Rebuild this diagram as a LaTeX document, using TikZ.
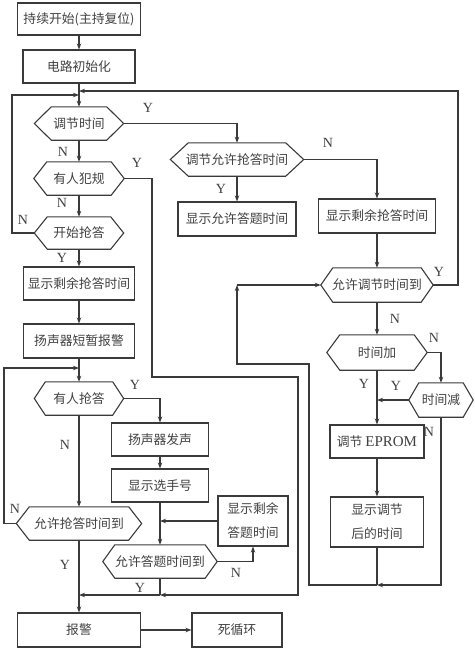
\documentclass[tikz,border=0pt]{standalone}
\usepackage{fontspec}
\setmainfont{Liberation Serif}
\newfontfamily\cjk{Noto Sans CJK SC}
\usetikzlibrary{arrows.meta}
\definecolor{ln}{HTML}{3A3A3A}
\definecolor{tx}{HTML}{404040}
\newcommand\hexdraw[2]{\draw[line] (#1.west) -- ([xshift=#2pt]#1.north west) -- ([xshift=-#2pt]#1.north east) -- (#1.east) -- ([xshift=-#2pt]#1.south east) -- ([xshift=#2pt]#1.south west) -- cycle;}
\begin{document}
\begin{tikzpicture}[x=1pt,y=-1pt,
  line/.style={draw=ln, line width=1.1pt},
  arr/.style={line, -{Stealth[length=6pt,width=4.5pt]}},
  box/.style={draw=ln, line width=1.1pt, rectangle, minimum height=33pt, inner sep=0pt, font=\cjk\fontsize{12.8}{24}\selectfont, text=tx, align=center},
  hexn/.style={rectangle, minimum height=33pt, inner sep=0pt, font=\cjk\fontsize{12.8}{24}\selectfont, text=tx, align=center},
  lab/.style={inner sep=0pt, font=\fontsize{14}{14}\selectfont, text=tx}
]
\useasboundingbox (0,0) rectangle (474,648);
% left column
\node[box, minimum width=123pt, minimum height=32pt] (A) at (79,19) {持续开始(主持复位)};
\node[box, minimum width=112pt] (B) at (79,66.5) {电路初始化};
\node[hexn, minimum width=89pt] (C) at (79,123.5) {调节时间};
\node[hexn, minimum width=90pt] (D) at (79,178.5) {有人犯规};
\node[hexn, minimum width=89pt, minimum height=32pt] (E) at (79,233) {开始抢答};
\node[box, minimum width=111pt] (F) at (79,283.5) {显示剩余抢答时间};
\node[box, minimum width=111pt, minimum height=34pt] (G) at (79,341) {扬声器短暂报警};
\node[hexn, minimum width=89pt] (H) at (79,398.5) {有人抢答};
\node[hexn, minimum width=125pt] (I) at (79,523.5) {允许抢答时间到};
\node[box, minimum width=123pt, minimum height=34pt] (J) at (79,630) {报警};
\node[box, minimum width=90pt, minimum height=34pt] (K) at (237,630) {死循环};
% middle
\node[box, minimum width=97pt] (L) at (160,439.5) {扬声器发声};
\node[box, minimum width=97pt] (M) at (160,485.5) {显示选手号};
\node[box, minimum width=70pt, minimum height=50pt] (N) at (253,521) {显示剩余\\答题时间};
\node[hexn, minimum width=114pt] (O) at (160,561.5) {允许答题时间到};
% right
\node[hexn, minimum width=133pt] (P) at (237,159.5) {调节允许抢答时间};
\node[box, minimum width=118pt, minimum height=34pt] (Q) at (237,219) {显示允许答题时间};
\node[box, minimum width=117pt, minimum height=34pt] (R) at (377,216) {显示剩余抢答时间};
\node[hexn, minimum width=112pt, minimum height=34pt] (S) at (377,285) {允许调节时间到};
\node[hexn, minimum width=100pt, minimum height=35pt] (T) at (377,352.5) {时间加};
\node[hexn, minimum width=64pt, minimum height=34pt] (U) at (441,400) {时间减};
\node[box, minimum width=94pt] (V) at (377,441.5) {调节 {\rmfamily\fontsize{15}{15}\selectfont EPROM}};
\node[box, minimum width=93pt, minimum height=50pt] (W) at (377,522) {显示调节\\后的时间};
% hexagon outlines
\hexdraw{C}{17}
\hexdraw{D}{13}
\hexdraw{E}{13}
\hexdraw{H}{11}
\hexdraw{I}{13}
\hexdraw{O}{12}
\hexdraw{P}{18}
\hexdraw{S}{12}
\hexdraw{T}{13}
\hexdraw{U}{10}
% junction coordinates
\coordinate (j1) at (79,95);
\coordinate (j2) at (79,91);
\coordinate (j3) at (79,595);
\coordinate (j4) at (160,595);
\coordinate (j5) at (79,368);
\coordinate (j6) at (160,521);
\coordinate (j7) at (377,400);
\coordinate (j8) at (377,585);
\coordinate (j9) at (237,285);
% connectors left
\draw[arr] (A) -- (B);
\draw[arr] (B) -- (C);
\draw[arr] (E.west) -- (12,233) -- (12,95) -- (j1);
\draw[arr] (S.east) -- (458,285) -- (458,91) -- (j2);
\draw[arr] (C) -- (D);
\draw[arr] (C.east) -| (P.north);
\draw[arr] (D) -- (E);
\draw[arr] (D.east) -- (152,178.5) -- (152,377) -- (298,377) -- (298,595) -- (j4);
\draw[line] (O.south) -- (j4);
\draw[arr] (j4) -- (j3);
\draw[arr] (E) -- (F);
\draw[arr] (F) -- (G);
\draw[arr] (G) -- (H);
\draw[arr] (I.west) -- (4,523.5) -- (4,368) -- (j5);
\draw[arr] (H.east) -| (L.north);
\draw[arr] (H) -- (I);
\draw[arr] (L) -- (M);
\draw[arr] (M) -- (O);
\draw[arr] (N.west) -- (j6);
\draw[arr] (O.east) -| (N.south);
\draw[arr] (I) -- (J);
\draw[arr] (J) -- (K);
% connectors right
\draw[arr] (P) -- (Q);
\draw[arr] (P.east) -| (R.north);
\draw[arr] (R) -- (S);
\draw[arr] (S) -- (T);
\draw[arr] (T) -- (V);
\draw[arr] (T.east) -| (U.north);
\draw[arr] (U.west) -- (j7);
\draw[arr] (U.south) -- (441,585) -- (j8);
\draw[arr] (V) -- (W);
\draw[line] (W.south) -- (j8);
\draw[arr] (j8) -- (309,585) -- (309,364) -- (237,364) -- (j9);
\draw[arr] (j9) -- (S.west);
% labels
\node[lab] (lCY) at (148,108) {Y};
\node[lab] (lCN) at (63,152) {N};
\node[lab] (lDY) at (137,163) {Y};
\node[lab] (lDN) at (62,203) {N};
\node[lab] (lEN) at (23,220) {N};
\node[lab] (lEY) at (62,258) {Y};
\node[lab] (lPY) at (221,189) {Y};
\node[lab] (lPN) at (328,143) {N};
\node[lab] (lSY) at (439,272) {Y};
\node[lab] (lSN) at (395,319) {N};
\node[lab] (lTN) at (434,338) {N};
\node[lab] (lTY) at (364,384) {Y};
\node[lab] (lUY) at (396,386) {Y};
\node[lab] (lUN) at (429,432) {N};
\node[lab] (lHY) at (135,385) {Y};
\node[lab] (lHN) at (65,445) {N};
\node[lab] (lIN) at (15,509) {N};
\node[lab] (lON) at (236,573) {N};
\node[lab] (lOY) at (140,588) {Y};
\node[lab] (lIY) at (65,565) {Y};
\end{tikzpicture}
\end{document}
